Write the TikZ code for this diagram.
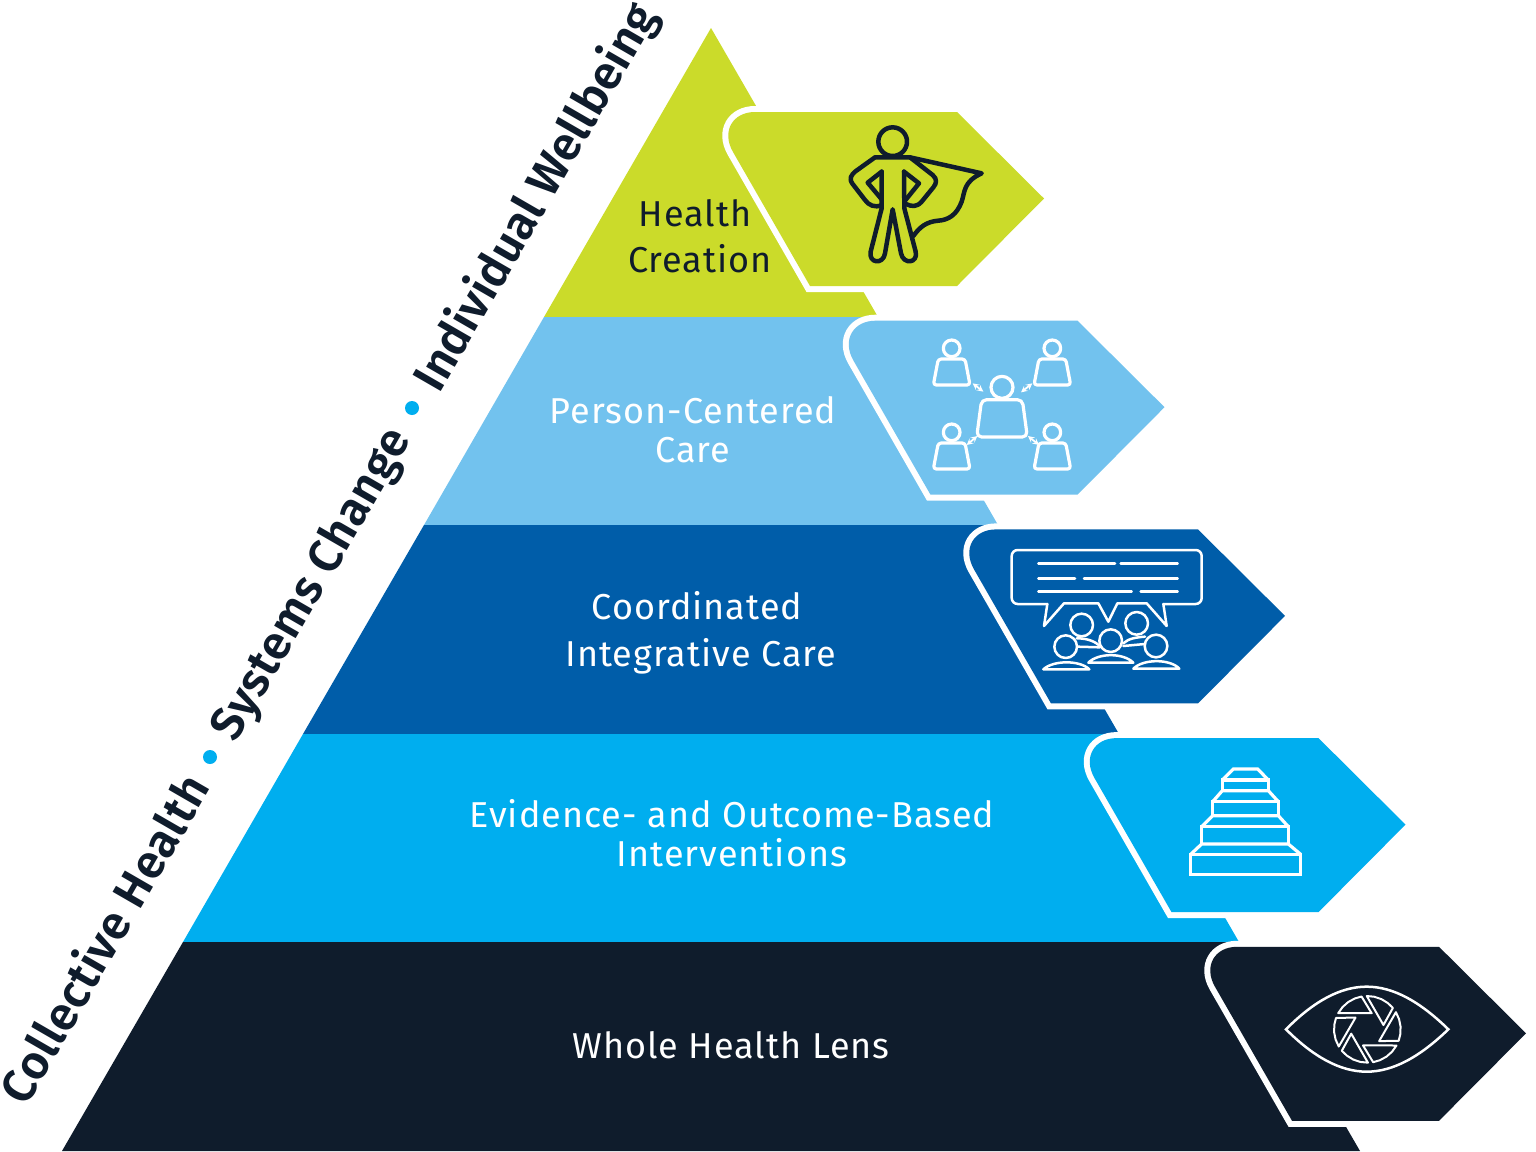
\documentclass[tikz,border=0pt]{standalone}
\usepackage{fontspec}
\setmainfont{Fira Sans}[LetterSpace=2.8]
\newfontfamily\slopefont{Fira Sans SemiBold}[LetterSpace=1]
\newfontfamily\slopefontb{Fira Sans SemiBold}[LetterSpace=0]
\definecolor{cgreen}{HTML}{CBDB2A}
\definecolor{clight}{HTML}{72C2EE}
\definecolor{cblue}{HTML}{005DA9}
\definecolor{ccyan}{HTML}{00AEEF}
\definecolor{cnavy}{HTML}{0F1C2C}
\tikzset{
  label/.style={anchor=base,inner sep=0pt,font=\fontsize{36}{40}\selectfont},
  slopetext/.style={rotate=60,inner sep=0pt,text=cnavy,font=\slopefont\fontsize{47}{50}\selectfont},
  icondark/.style={draw=cnavy,line width=4.5pt,line join=round,line cap=round},
  iconlight/.style={draw=white,line width=3.2pt,line join=round,line cap=round},
  iconthin/.style={draw=white,line width=2.5pt,line join=round,line cap=round},
  twoway/.style={draw=white,line width=1.8pt,<->,>=stealth},
  zoomed/.style={x=0.33333pt,y=-0.33333pt},
}
\newcommand{\tagat}[3]{%
  \def\tagpath{(755,112) -- (957,112) -- (1044,198.5) -- (957,286) -- (810,286) -- (733,152) .. controls (721,131) and (733,112) .. (755,112) -- cycle}
  \begin{scope}[shift={(#1pt,-#2pt)}]
  \draw[white,line width=12pt,miter limit=10] \tagpath;
  \fill[#3] \tagpath;
  \end{scope}}
\newcommand{\personicon}[5]{%
  \draw[iconlight] (#1,#2) circle[radius=#3];
  \draw[iconlight,rounded corners=#5] (#1-#4*0.73,#2+#3*1.28) -- (#1+#4*0.73,#2+#3*1.28) -- (#1+#4,#2+#3*4.4) -- (#1-#4,#2+#3*4.4) -- cycle;}
\begin{document}
\begin{tikzpicture}[x=1pt,y=-1pt]
\useasboundingbox[fill=white] (0,0) rectangle (1536,1151);
% pyramid layers
\fill[cgreen] (711,28) -- (878,317) -- (544,317) -- cycle;
\fill[clight] (544,317) -- (878,317) -- (998,525) -- (424,525) -- cycle;
\fill[cblue] (424,525) -- (998,525) -- (1119,734) -- (303,734) -- cycle;
\fill[ccyan] (303,734) -- (1119,734) -- (1239,942) -- (183,942) -- cycle;
\fill[cnavy] (183,942) -- (1239,942) -- (1360,1151) -- (62,1151) -- cycle;
% tags
\tagat{0}{0}{cgreen}
\tagat{120.5}{208.7}{clight}
\tagat{241}{417.4}{cblue}
\tagat{361.5}{626.1}{ccyan}
\tagat{482}{834.8}{cnavy}
% labels
\node[label,text=cnavy] (l1a) at (695,226) {Health};
\node[label,text=cnavy] (l1b) at (700,272) {Creation};
\node[label,text=white] (l2a) at (693,423) {Person-Centered};
\node[label,text=white] (l2b) at (693,462) {Care};
\node[label,text=white] (l3a) at (697,619) {Coordinated};
\node[label,text=white] (l3b) at (701,666) {Integrative Care};
\node[label,text=white] (l4a) at (732,827) {Evidence- and Outcome-Based};
\node[label,text=white] (l4b) at (732,866) {Interventions};
\node[label,text=white] (l5) at (731,1058) {Whole Health Lens};
% slope text
\node[slopetext] (s1) at (103,938) {Collective Health};
\node[slopetext] (s2) at (313,585) {Systems Change};
\node[slopetext,font=\slopefontb\fontsize{47}{50}\selectfont] (s3) at (537,198) {Individual Wellbeing};
\fill[ccyan] (210,757) circle[radius=7];
\fill[ccyan] (412,408) circle[radius=7];
% hero icon
\begin{scope}[shift={(700pt,-80pt)},zoomed]
\draw[icondark] (578,185) circle[radius=43];
\draw[icondark] (545,275) -- (503,308) -- (545,358);
\draw[icondark] (612,275) -- (657,310) -- (615,362);
\draw[icondark] (545,275) -- (545,385) -- (512,515) .. controls (505,550) and (550,555) .. (555,520) -- (578,388) -- (603,520) .. controls (610,555) and (655,550) .. (647,515) -- (613,385) -- (612,275);
\draw[icondark] (545,375) .. controls (525,385) and (505,375) .. (495,360) -- (458,312) .. controls (445,295) and (455,285) .. (465,275) -- (525,232) -- (630,232) -- (698,285) .. controls (712,297) and (710,310) .. (700,322) -- (665,365) .. controls (650,382) and (635,380) .. (618,372);
\draw[icondark] (630,232) -- (845,280) .. controls (790,305) and (795,335) .. (785,365) .. controls (770,405) and (745,420) .. (715,422) .. controls (680,425) and (660,440) .. (640,468);
\end{scope}
% people icon
\begin{scope}[shift={(840pt,-310pt)},zoomed]
\personicon{335}{115}{25}{55}{3pt}
\personicon{637}{115}{25}{55}{3pt}
\personicon{335}{367}{25}{55}{3pt}
\personicon{637}{367}{25}{55}{3pt}
\draw[iconlight] (486,232) circle[radius=33];
\draw[iconlight,rounded corners=5pt] (425,269) -- (547,269) -- (562,381) -- (410,381) -- cycle;
\draw[twoway] (398,220) -- (430,245);
\draw[twoway] (577,220) -- (543,247);
\draw[twoway] (380,405) -- (412,378);
\draw[twoway] (564,378) -- (597,405);
\end{scope}
% chat icon
\begin{scope}[shift={(960pt,-520pt)},zoomed]
\draw[iconthin,rounded corners=6pt] (262,252) -- (190,252) -- (155,252) -- (155,90) -- (725,90) -- (725,252) -- (610,252);
\draw[iconthin] (262,252) -- (252,318) -- (312,250) -- (415,250) -- (445,305) -- (472,250) -- (560,250) -- (620,318) -- (610,252);
\foreach \a/\b/\c in {235/465/131,482/653/131,235/345/175,372/653/175,235/515/215,542/653/215}
  \draw[iconthin] (\a,\c) -- (\b,\c);
\foreach \a/\b in {365/315,530/310,317/380,452/362,588/378}
  \draw[iconthin] (\a,\b) circle[radius=34];
\draw[iconthin] (250,448) .. controls (280,420) and (360,420) .. (388,448) -- cycle;
\draw[iconthin] (385,428) .. controls (415,398) and (490,398) .. (520,428) -- cycle;
\draw[iconthin] (520,446) .. controls (550,416) and (630,416) .. (658,446) -- cycle;
\draw[iconthin] (350,355) .. controls (385,355) and (405,365) .. (420,378);
\draw[iconthin] (352,380) -- (420,382);
\draw[iconthin] (490,370) .. controls (505,355) and (530,352) .. (555,350);
\draw[iconthin] (490,378) -- (555,372);
\end{scope}
% stairs icon
\begin{scope}[shift={(1160pt,-750pt)},zoomed]
\draw[iconlight,line cap=butt,line join=miter] (92,313) rectangle (422,373);
\draw[iconlight,line join=miter] (92,313) -- (125,282) -- (385,282) -- (422,313);
\draw[iconlight,line join=miter] (125,282) -- (125,230) -- (385,230) -- (385,282);
\draw[iconlight,line join=miter] (125,230) -- (158,197) -- (355,197) -- (385,230);
\draw[iconlight,line join=miter] (158,197) -- (158,155) -- (355,155) -- (355,197);
\draw[iconlight,line join=miter] (158,155) -- (187,122) -- (325,122) -- (355,155);
\draw[iconlight,line join=miter] (187,122) -- (187,90) -- (325,90) -- (325,122);
\draw[iconlight,line join=miter] (187,90) -- (220,57) -- (293,57) -- (325,90);
\end{scope}
% eye icon
\begin{scope}[shift={(1270pt,-970pt)},zoomed]
\draw[iconthin,line join=miter] (48,178) .. controls (130,95) and (210,50) .. (290,50) .. controls (370,50) and (450,95) .. (535,178) .. controls (450,260) and (370,305) .. (290,305) .. controls (210,305) and (130,260) .. (48,178) -- cycle;
\begin{scope}[shift={(292*0.33333pt,-178*0.33333pt)}]
\foreach \k in {0,60,...,300}
  \draw[iconthin,line width=2pt] ({209+\k}:100) -- ({222+\k}:100) -- ({235+\k}:100) -- ({248+\k}:100) -- ({260+\k}:100) -- ({285+\k}:50) -- cycle;
\end{scope}
\end{scope}
\end{tikzpicture}
\end{document}
